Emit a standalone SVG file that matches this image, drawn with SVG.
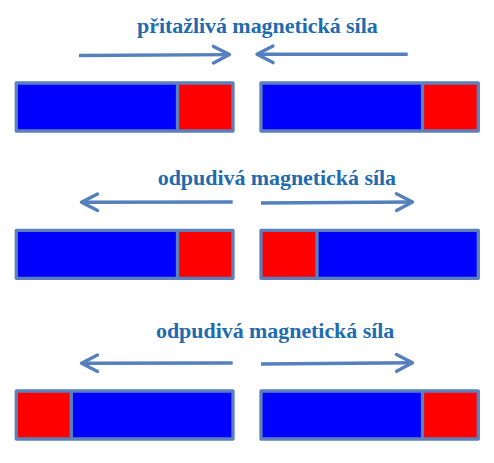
<svg xmlns="http://www.w3.org/2000/svg" width="494" height="463" viewBox="0 0 494 463">
<style>
.lbl{font-family:"Liberation Serif","Times New Roman",serif;font-weight:bold;font-size:22px;fill:#1F6BB0}
.n{fill:#0000FF}
.s{fill:#FF0000}
.div{stroke:#5B80BC;stroke-width:3.3}
.out{fill:none;stroke:#5B80BC;stroke-width:3.3;stroke-linejoin:round}
.arr{fill:none;stroke:#5580BD;stroke-width:3.4;stroke-linecap:butt;marker-end:url(#head)}
</style>
<defs>
<marker id="head" markerUnits="userSpaceOnUse" viewBox="-20 -12 24 24" refX="0" refY="0" markerWidth="24" markerHeight="24" orient="auto" overflow="visible">
<path d="M-16,-8.3 L0,0 L-16,8.3" fill="none" stroke="#5580BD" stroke-width="3.4" stroke-linejoin="round" stroke-linecap="round"/>
</marker>
</defs>
<rect width="494" height="463" fill="#FFFFFF"/>

<text id="label1" class="lbl" x="137" y="33.3" textLength="240.7">přitažlivá magnetická síla</text>
<text id="label2" class="lbl" x="157.7" y="185" textLength="238.3">odpudivá magnetická síla</text>
<text id="label3" class="lbl" x="156" y="338.3" textLength="238.3">odpudivá magnetická síla</text>

<g id="connectors">
<path class="arr" d="M79,55.5 L229.5,54.6"/>
<path class="arr" d="M407.7,54.3 L257,54.3"/>
<path class="arr" d="M232.7,202 L81.5,202.3"/>
<path class="arr" d="M261,203 L412.5,202"/>
<path class="arr" d="M232.7,363 L81.5,363.3"/>
<path class="arr" d="M261,364 L412.5,362.7"/>
</g>

<g id="magnet1a">
<rect class="n" x="16.3" y="83" width="216.7" height="48"/>
<rect class="s" x="177.5" y="83" width="55.5" height="48"/>
<line class="div" x1="177.5" y1="83" x2="177.5" y2="131"/>
<rect class="out" x="16.3" y="83" width="216.7" height="48"/>
</g>
<g id="magnet1b">
<rect class="n" x="261" y="83" width="217.3" height="48"/>
<rect class="s" x="422.5" y="83" width="55.8" height="48"/>
<line class="div" x1="422.5" y1="83" x2="422.5" y2="131"/>
<rect class="out" x="261" y="83" width="217.3" height="48"/>
</g>

<g id="magnet2a">
<rect class="n" x="16.3" y="230.35" width="216.7" height="48"/>
<rect class="s" x="177.5" y="230.35" width="55.5" height="48"/>
<line class="div" x1="177.5" y1="230.35" x2="177.5" y2="278.35"/>
<rect class="out" x="16.3" y="230.35" width="216.7" height="48"/>
</g>
<g id="magnet2b">
<rect class="n" x="261" y="230.35" width="217.3" height="48"/>
<rect class="s" x="261" y="230.35" width="56" height="48"/>
<line class="div" x1="317" y1="230.35" x2="317" y2="278.35"/>
<rect class="out" x="261" y="230.35" width="217.3" height="48"/>
</g>

<g id="magnet3a">
<rect class="n" x="16.3" y="391" width="216.7" height="48"/>
<rect class="s" x="16.3" y="391" width="55" height="48"/>
<line class="div" x1="71.3" y1="391" x2="71.3" y2="439"/>
<rect class="out" x="16.3" y="391" width="216.7" height="48"/>
</g>
<g id="magnet3b">
<rect class="n" x="261" y="391" width="217.3" height="48"/>
<rect class="s" x="422.5" y="391" width="55.8" height="48"/>
<line class="div" x1="422.5" y1="391" x2="422.5" y2="439"/>
<rect class="out" x="261" y="391" width="217.3" height="48"/>
</g>
</svg>
